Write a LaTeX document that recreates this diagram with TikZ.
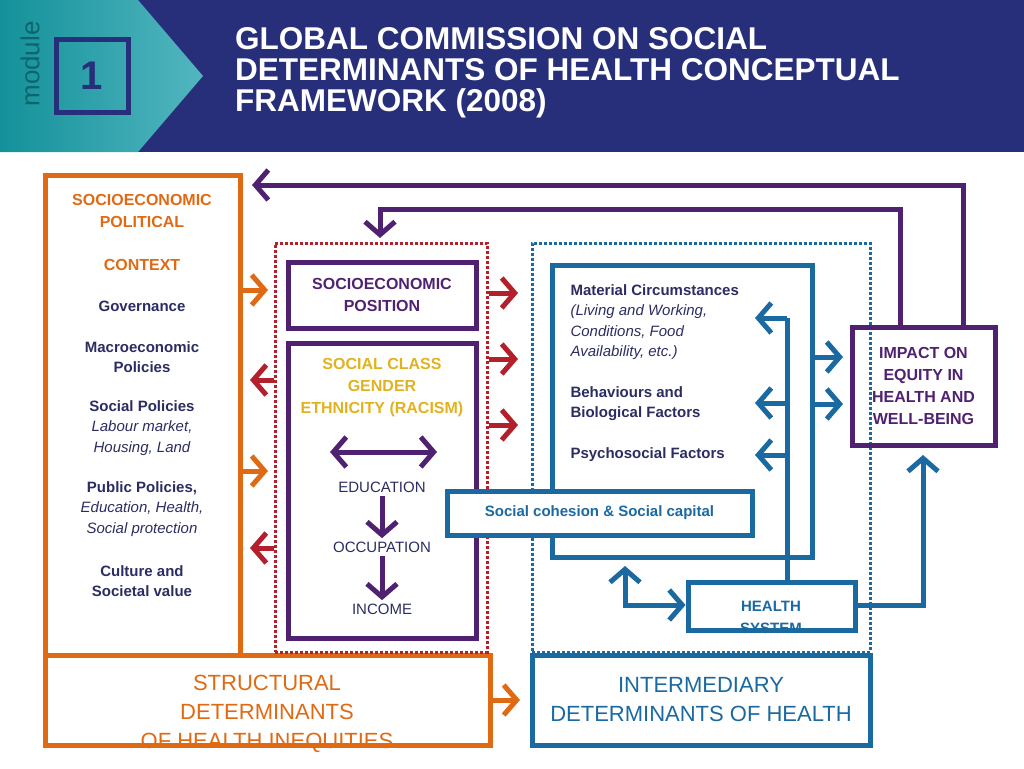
\documentclass[tikz,border=0pt]{standalone}
\usepackage{fontspec}
\setmainfont{Liberation Sans}
\usetikzlibrary{arrows.meta,positioning,shadings}
\definecolor{hdnavy}{HTML}{272F7B}
\definecolor{tealA}{HTML}{13919A}
\definecolor{tealB}{HTML}{52B6BF}
\definecolor{orng}{HTML}{E06A14}
\definecolor{purp}{HTML}{502171}
\definecolor{rd}{HTML}{B3202B}
\definecolor{blu}{HTML}{1B69A1}
\definecolor{txt}{HTML}{2B2D62}
\definecolor{yel}{HTML}{E2B21E}
\newcommand{\itl}[1]{{\mdseries\itshape #1}}
\begin{document}
\begin{tikzpicture}[x=1pt,y=-1pt,
    box/.style={draw, line width=5pt, inner sep=0pt},
    dotbox/.style={draw, line width=3pt, dotted, inner sep=0pt},
    chev/.tip={Straight Barb[length=13pt,width=30pt,line width=5pt]},
    link/.style={line width=5pt, -chev},
    twolink/.style={line width=5pt, chev-chev},
    hd/.style={font=\fontsize{16}{22}\selectfont\bfseries, align=center},
    lbl/.style={font=\fontsize{15}{20.5}\selectfont\bfseries, text=txt, align=center},
    lbll/.style={font=\fontsize{15}{20.5}\selectfont\bfseries, text=txt, align=left, anchor=north west},
    stage/.style={font=\fontsize{15}{20.5}\selectfont, text=txt}]
    \useasboundingbox (0,0) rectangle (1024,768);
    % header
    \fill[hdnavy] (0,0) rectangle (1024,152);
    \shade[left color=tealA, right color=tealB] (0,0) -- (138,0) -- (203,76) -- (138,152) -- (0,152) -- cycle;
    \node[rotate=90, text=tealA!70!black, font=\fontsize{26}{26}\selectfont] (mod) at (30,64) {module};
    \node[draw=hdnavy, line width=5pt, minimum size=72pt, text=hdnavy, font=\fontsize{40}{40}\selectfont\bfseries] (num) at (92,76) {1};
    \node[anchor=north west, text=white, align=left, font=\fontsize{31.5}{31}\selectfont\bfseries, inner sep=0pt] (title) at (235,27)
      {GLOBAL COMMISSION ON SOCIAL\\DETERMINANTS OF HEALTH CONCEPTUAL\\FRAMEWORK (2008)};

    % structural determinants
    \node[box, draw=orng, minimum width=195pt, minimum height=480pt] (ctx) at (142.5,415) {};
    \node[box, draw=orng, fill=white, minimum width=445pt, minimum height=90pt] (sdh) at (267.5,700) {};
    \node[hd, text=orng, font=\fontsize{22}{29}\selectfont] (sdhtxt) at (267,714) {STRUCTURAL\\DETERMINANTS\\OF HEALTH INEQUITIES};
    \node[hd, text=orng] (spc) at (142,211) {SOCIOECONOMIC\\POLITICAL};
    \node[hd, text=orng] (cont) at (142,265) {CONTEXT};
    \node[lbl] (gov) at (142,306) {Governance};
    \node[lbl] (macro) at (142,357) {Macroeconomic\\Policies};
    \node[lbl] (socpol) at (142,428) {Social Policies\\\itl{Labour market,}\\\itl{Housing, Land}};
    \node[lbl] (pubpol) at (142,509) {Public Policies,\\\itl{Education, Health,}\\\itl{Social protection}};
    \node[lbl] (cult) at (142,581) {Culture and\\Societal value};

    \node[dotbox, draw=rd, minimum width=212pt, minimum height=409pt] (pos) at (381,447.5) {};
    \node[box, draw=purp, minimum width=188pt, minimum height=66pt] (sep) at (382,295) {};
    \node[hd, text=purp] at (sep) {SOCIOECONOMIC\\POSITION};
    \node[box, draw=purp, minimum width=188pt, minimum height=295pt] (scg) at (382,490.5) {};
    \node[hd, text=yel] (cls) at (382,388) {SOCIAL CLASS\\GENDER\\ETHNICITY (RACISM)};
    \coordinate (gl) at (330,452);
    \coordinate (gr) at (437,452);
    \draw[twolink, draw=purp] (gl) -- (gr);
    \node[stage] (edu) at (382,487) {EDUCATION};
    \node[stage] (occ) at (382,547) {OCCUPATION};
    \node[stage] (inc) at (382,609) {INCOME};
    \draw[link, draw=purp] (edu.south) -- (occ.north);
    \draw[link, draw=purp] (occ.south) -- (inc.north);

    % intermediary determinants
    \node[dotbox, draw=blu, minimum width=338pt, minimum height=409pt] (mid) at (701,447.5) {};
    \node[box, draw=blu, minimum width=260pt, minimum height=292pt] (circ) at (682,411) {};
    \node[box, draw=blu, fill=white, minimum width=305pt, minimum height=44pt] (coh) at (599.5,513) {};
    \node[hd, text=blu, font=\fontsize{15}{20}\selectfont\bfseries] at (coh) {Social cohesion \& Social capital};
    \node[lbll] (mat) at (567,281) {Material Circumstances\\\itl{(Living and Working,}\\\itl{Conditions, Food}\\\itl{Availability, etc.)}};
    \node[lbll] (beh) at (567,383) {Behaviours and\\Biological Factors};
    \node[lbll] (psy) at (567,444) {Psychosocial Factors};
    \node[box, draw=blu, fill=white, minimum width=167pt, minimum height=48pt] (hs) at (771.5,606) {};
    \node[hd, text=blu, font=\fontsize{15}{22}\selectfont\bfseries] at (771,617) {HEALTH\\SYSTEM};
    \node[box, draw=blu, minimum width=338pt, minimum height=90pt] (idh) at (701,700) {};
    \node[hd, text=blu, font=\fontsize{22}{29}\selectfont] at (701,700) {INTERMEDIARY\\DETERMINANTS OF HEALTH};

    \node[box, draw=purp, minimum width=143pt, minimum height=118pt] (imp) at (923.5,386) {};
    \node[hd, text=purp] at (imp) {IMPACT ON\\EQUITY IN\\HEALTH AND\\WELL-BEING};

    % connectors
    \coordinate (o1) at (268,290);  \draw[link, draw=orng] (ctx.east |- o1) -- (o1);
    \coordinate (o2) at (268,471);  \draw[link, draw=orng] (ctx.east |- o2) -- (o2);
    \coordinate (r1) at (250,380);  \draw[link, draw=rd] (pos.west |- r1) -- (r1);
    \coordinate (r2) at (250,548);  \draw[link, draw=rd] (pos.west |- r2) -- (r2);
    \foreach \y [count=\i] in {293,359,425} {
      \coordinate (rr\i) at (518,\y);
      \draw[link, draw=rd] (pos.east |- rr\i) -- (rr\i);
    }
    \coordinate (o3) at (520,700);  \draw[link, draw=orng] (sdh.east |- o3) -- (o3);
    \coordinate (vt) at (787,318);
    \draw[line width=5pt, draw=blu] (vt) -- (vt |- hs.north);
    \foreach \y [count=\i] in {318,403,455} {
      \coordinate (bl\i) at (755,\y);
      \draw[link, draw=blu] (787,\y) -- (bl\i);
    }
    \foreach \y [count=\i] in {357,404} {
      \coordinate (br\i) at (843,\y);
      \draw[link, draw=blu] (circ.east |- br\i) -- (br\i);
    }
    \coordinate (hc) at (625,566);
    \coordinate (hb) at (625,605);
    \draw[twolink, draw=blu] (hc) -- (hb) -- (hs.west |- hb);
    \coordinate (iu) at (923,455);
    \draw[link, draw=blu] (hs.east |- hb) -- (923,605) -- (iu);
    \coordinate (fb1) at (252,185);
    \draw[link, draw=purp] (963,329) -- (963,185) -- (fb1);
    \coordinate (fb2) at (380,238);
    \draw[link, draw=purp] (900,329) -- (900,209) -- (380,209) -- (fb2);
\end{tikzpicture}
\end{document}
